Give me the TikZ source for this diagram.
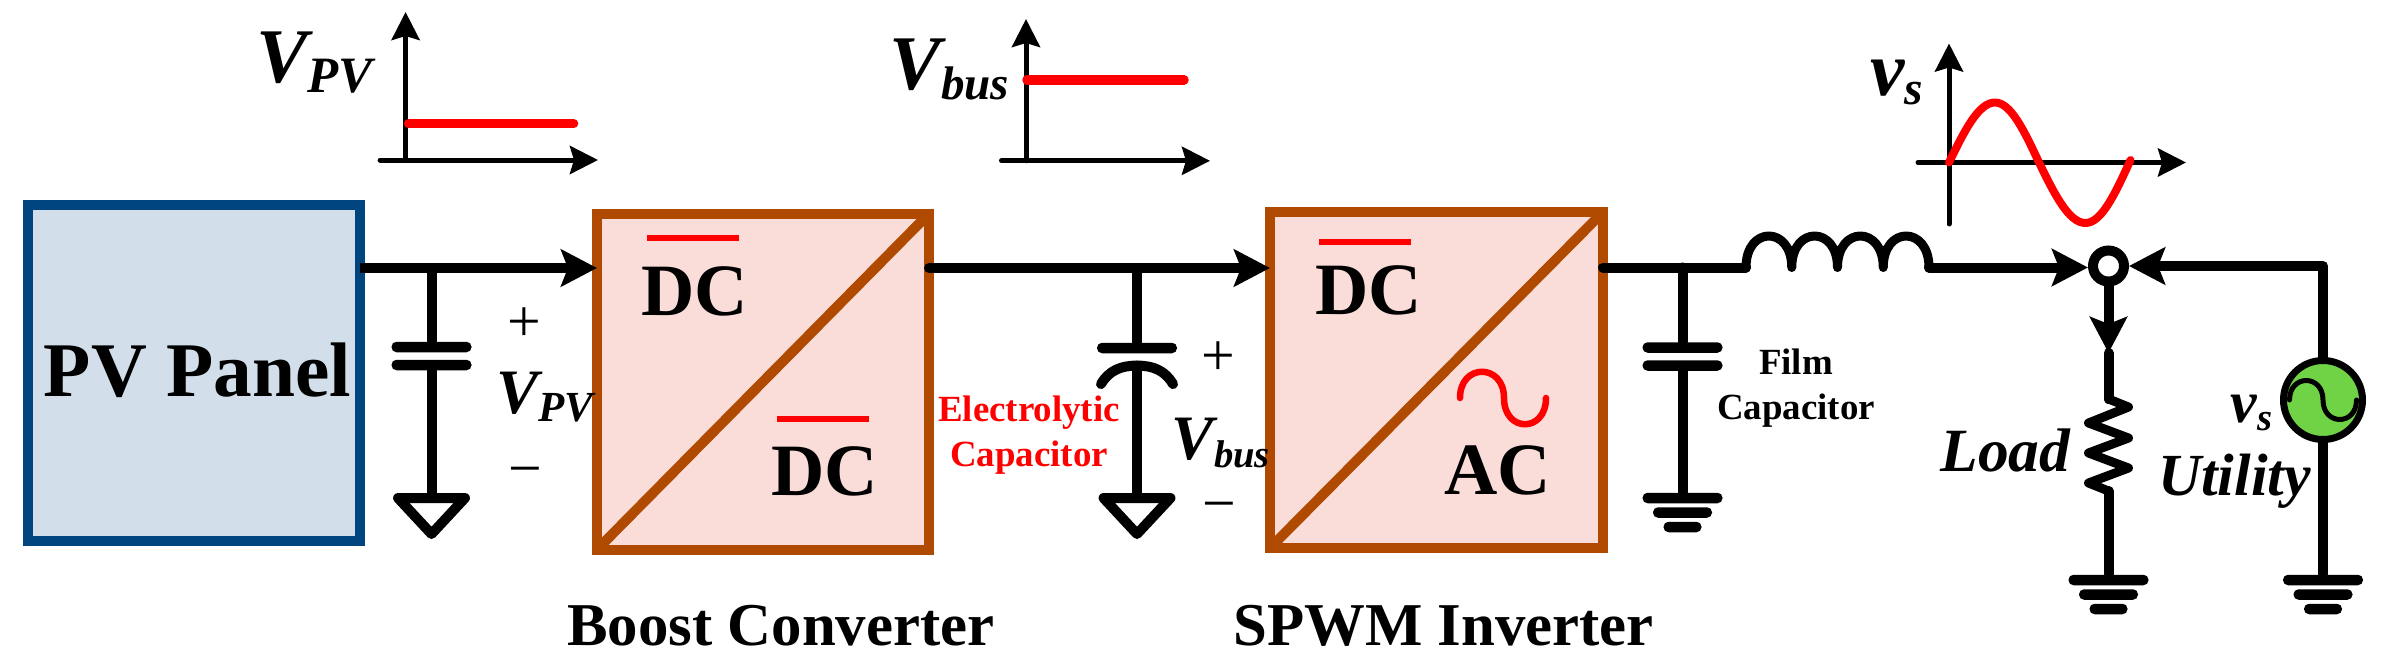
\documentclass[tikz,border=0pt]{standalone}
\usepackage{fontspec}
\setmainfont{Liberation Serif}
\usetikzlibrary{positioning,arrows.meta}
\definecolor{pvblue}{HTML}{00457F}
\definecolor{pvfill}{HTML}{D2DFEA}
\definecolor{conv}{HTML}{B04A00}
\definecolor{convfill}{HTML}{FADCD9}
\definecolor{srcgreen}{HTML}{70D346}
% big letter with a lowered index
\newcommand{\vbold}[5]{{\fontsize{#1}{#1}\selectfont\textbf{\textit{#2}}}\raisebox{-#5}{\fontsize{#3}{#3}\selectfont\textbf{\textit{#4}}}}
\newcommand{\earth}[3]{%
  \node[plate] (#1a) [below=#3 of #2] {};
  \node[plate, minimum width=.59cm] (#1b) [below=.145cm of #1a] {};
  \node[plate, minimum width=.38cm] (#1c) [below=.145cm of #1b] {};
}
\newcommand{\hollow}[1]{\draw[wire] ([xshift=-.335cm]#1) -- ([xshift=.335cm]#1) -- ([yshift=-.36cm]#1) -- cycle;}

\begin{document}
\begin{tikzpicture}[on grid]
 \tikzstyle{panel}=[rectangle,draw=pvblue,fill=pvfill,line width=.1cm,outer sep=0,minimum width=3.32cm,minimum height=3.36cm]
 \tikzstyle{block}=[rectangle,draw=conv,fill=convfill,line width=.1cm,outer sep=0,minimum width=3.32cm,minimum height=3.36cm]
 \tikzstyle{wire}=[line width=.1cm,line cap=round,line join=round]
 \tikzstyle{arr}=[wire,-{Stealth[length=.36cm,width=.37cm,inset=.07cm]}]
 \tikzstyle{axis}=[line width=.05cm,line cap=round,-{Stealth[length=.28cm,width=.28cm,inset=.04cm]}]
 \tikzstyle{trace}=[line width=.095cm,line cap=round,line join=round,red]
 \tikzstyle{plate}=[rectangle,fill=black,inner sep=0,minimum width=.8cm,minimum height=.105cm,rounded corners=.05cm]
 \tikzstyle{bar}=[rectangle,fill=red,inner sep=0,minimum width=.92cm,minimum height=.055cm]
 \tikzstyle{big}=[inner sep=0,font=\fontsize{21}{21}\bfseries\selectfont]
 \tikzstyle{title}=[inner sep=0,font=\fontsize{17.3}{18}\bfseries\selectfont]
 \tikzstyle{note}=[inner sep=0,align=center,font=\fontsize{10.5}{12.6}\bfseries\selectfont]
 \tikzstyle{sign}=[inner sep=0,font=\fontsize{17}{17}\selectfont]
 \tikzstyle{inv}=[inner sep=0]
 \tikzstyle{pt}=[inner sep=0,outer sep=0,minimum size=0]
 \tikzstyle{ital}=[inner sep=0,font=\bfseries\itshape]
 \useasboundingbox (0,0) rectangle (23.83,6.69);

  \node[panel] (PV) at (1.94,2.963) {};
  \node[inv,font=\fontsize{22}{22}\bfseries\selectfont] (PVt) [below right=-.027cm and .035cm of PV] {PV Panel};
  \node[block] (Boost) [below right=.089cm and 5.69cm of PV] {};
  \node[block,minimum width=3.33cm] (Inv) [above right=.016cm and 6.735cm of Boost] {};
  \draw[conv,line width=.1cm] (Boost.south west) -- (Boost.north east);
  \draw[conv,line width=.1cm] (Inv.south west) -- (Inv.north east);

  \node[big] (DCa) [above left=.906cm and .68cm of Boost] {DC};
  \node[bar] (ba) [above left=.53cm and .02cm of DCa] {};
  \node[big] (DCb) [below right=.899cm and .615cm of Boost] {DC};
  \node[bar] (bb) [above left=.525cm and .02cm of DCb] {};
  \node[big] (DCc) [above left=.90cm and .675cm of Inv] {DC};
  \node[bar] (bc) [above left=.48cm and .045cm of DCc] {};
  \node[big] (AC) [below right=.90cm and .61cm of Inv] {AC};
  \coordinate[below right=.18cm and .235cm of Inv] (acs);
  \draw[trace,line width=.065cm] (acs) .. controls +(0,.35) and +(0,.35) .. ++(.44,0) .. controls +(0,-.35) and +(0,-.35) .. ++(.42,0);
  \node[title] (Bt) [below right=2.444cm and .18cm of Boost] {Boost Converter};
  \node[title] (It) [below right=2.46cm and .07cm of Inv] {SPWM Inverter};

  % plots
  \node[pt] (o1) [above right=2.127cm and 2.116cm of PV] {};
  \coordinate[above=1.48cm of o1] (o1y);
  \coordinate[left=.255cm of o1] (o1l);
  \coordinate[right=1.924cm of o1] (o1x);
  \draw[axis] (o1.center) -- (o1y);
  \draw[axis] (o1l) -- (o1x);
  \draw[trace] ([shift={(.03,.363)}]o1.center) -- ([shift={(1.68,.363)}]o1.center);
  \node[ital] (lab1) [above left=.975cm and .91cm of o1] {\vbold{22}{V}{14.5}{PV}{.1cm}};

  \node[pt] (o2) [above right=2.208cm and 2.63cm of Boost] {};
  \coordinate[above=1.418cm of o2] (o2y);
  \coordinate[left=.245cm of o2] (o2l);
  \coordinate[right=1.84cm of o2] (o2x);
  \draw[axis] (o2.center) -- (o2y);
  \draw[axis] (o2l) -- (o2x);
  \draw[trace] ([shift={(.01,.81)}]o2.center) -- ([shift={(1.58,.81)}]o2.center);
  \node[ital] (lab2) [above left=.918cm and .765cm of o2] {\vbold{22}{V}{13.4}{bus}{.1cm}};

  \node[pt] (o3) [above right=2.175cm and 5.125cm of Inv] {};
  \coordinate[above=1.19cm of o3] (o3y);
  \coordinate[below=.615cm of o3] (o3d);
  \coordinate[left=.31cm of o3] (o3l);
  \coordinate[right=2.37cm of o3] (o3x);
  \draw[axis] (o3d) -- (o3y);
  \draw[axis] (o3l) -- (o3x);
  \draw[trace,line width=.08cm] (o3.center) sin ++(.46,.60) cos ++(.44,-.60) sin ++(.465,-.605) cos ++(.45,.63);
  \node[ital] (lab3) [above left=.80cm and .52cm of o3] {\vbold{22}{v}{13.5}{s}{.09cm}};

  % dc link after the panel
  \node[pt] (j1) [above right=1.047cm and 2.375cm of PV] {};
  \node[plate] (c1t) [below=.79cm of j1] {};
  \node[plate] (c1b) [below=.97cm of j1] {};
  \coordinate[below=2.30cm of j1] (g1);
  \draw[arr,line cap=butt] (PV.east |- j1) -- (Boost.west |- j1);
  \draw[wire] (j1.center) -- (c1t);
  \draw[wire] (c1b) -- (g1);
  \hollow{g1}
  \node[sign] (p1) [below right=.57cm and .93cm of j1] {+};
  \node[sign] (m1) [below right=2.10cm and .94cm of j1] {−};
  \node[ital] (V1) [below right=1.29cm and 1.13cm of j1] {\vbold{18}{V}{12.2}{PV}{.08cm}};

  % bus capacitor
  \node[pt] (j2) [above right=1.136cm and 3.74cm of Boost] {};
  \node[plate] (c2t) [below=.80cm of j2] {};
  \coordinate[below=.976cm of j2] (c2b);
  \coordinate[below=2.30cm of j2] (g2);
  \draw[arr] (Boost.east |- j2) -- (Inv.west |- j2);
  \draw[wire] (j2.center) -- (c2t);
  \draw[wire] (c2b) -- (g2);
  \draw[wire] ([shift={(-.36,-.185)}]c2b) to[out=60,in=180] (c2b) to[out=0,in=120] ([shift={(.36,-.185)}]c2b);
  \hollow{g2}
  \node[sign] (p2) [below right=.91cm and .81cm of j2] {+};
  \node[sign] (m2) [below right=2.45cm and .82cm of j2] {−};
  \node[ital] (V2) [below right=1.75cm and .84cm of j2] {\vbold{18}{V}{11}{bus}{.08cm}};
  \node[note,red] (ec) [below left=1.67cm and 1.08cm of j2] {Electrolytic\\Capacitor};

  % grid side
  \node[pt] (j3) [above right=1.125cm and 2.46cm of Inv] {};
  \node[plate] (c3t) [below=.80cm of j3] {};
  \node[plate] (c3b) [below=.98cm of j3] {};
  \earth{g3}{j3}{2.305cm}
  \draw[wire] (Inv.east |- j3) -- (j3.center);
  \draw[wire] (j3.center) -- (c3t);
  \draw[wire] (c3b) -- (g3a);
  \node[note] (fc) [below right=1.205cm and 1.135cm of j3] {Film\\Capacitor};
  \coordinate[right=.635cm of j3] (L1);
  \coordinate[right=2.465cm of j3] (L2);
  \draw[wire] (j3.center) -- (L1);
  \draw[wire,line width=.09cm] (L1) \foreach \i in {1,...,4}{ .. controls +(0,.42) and +(0,.42) .. ++(.4575,0)};

  \node[circle,draw,fill=white,line width=.1cm,inner sep=0,minimum size=.31cm] (jn) [above right=.015cm and 4.26cm of j3] {};
  \draw[arr] (L2) -- (L2 -| jn.west);
  \coordinate[below=.87cm of jn] (a1);
  \node[pt] (Rt) [below=1.33cm of jn] {};
  \coordinate[below=2.25cm of jn] (Rb);
  \earth{g4}{jn}{3.14cm}
  \draw[arr] (jn.south) -- (a1);
  \draw[wire] (a1) -- (Rt.center);
  \draw[wire,line width=.09cm] (Rt.center) -- ++(.2,-.08) -- ++(-.4,-.16) -- ++(.4,-.15) -- ++(-.4,-.15) -- ++(.4,-.15) -- ++(-.4,-.15) -- (Rb);
  \draw[wire] (Rb) -- (g4a);
  \node[ital,font=\fontsize{17.5}{18}\bfseries\itshape\selectfont] (load) [below left=.51cm and 1.03cm of Rt] {Load};

  \node[circle,draw,fill=srcgreen,line width=.07cm,inner sep=0,minimum size=.79cm] (Src) [below right=1.34cm and 2.145cm of jn] {};
  \coordinate[left=.335cm of Src] (s1);
  \draw[wire,line width=.05cm] (s1) .. controls +(0,.26) and +(0,.26) .. ++(.335,0) .. controls +(0,-.26) and +(0,-.26) .. ++(.335,0);
  \draw[arr] (Src.north) |- (jn.east);
  \earth{g5}{Src}{1.80cm}
  \draw[wire] (Src.south) -- (g5a);
  \node[ital] (V3) [below left=.13cm and .715cm of Src] {\vbold{17}{v}{11}{s}{.08cm}};
  \node[ital,font=\fontsize{17}{18}\bfseries\itshape\selectfont] (util) [below left=.81cm and .885cm of Src] {Utility};
\end{tikzpicture}
\end{document}
